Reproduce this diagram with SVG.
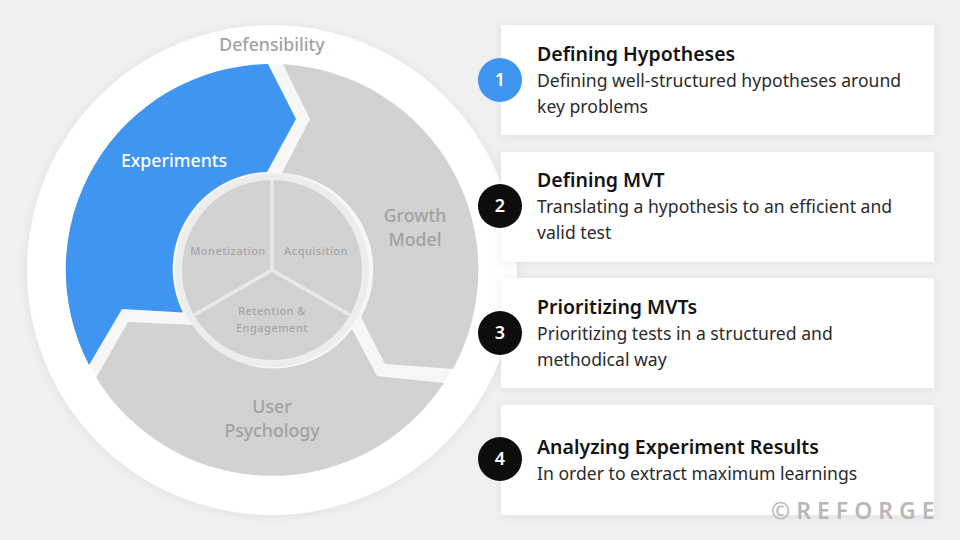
<svg xmlns="http://www.w3.org/2000/svg" width="960" height="540" viewBox="0 0 960 540">
<style>
text{font-family:"Noto Sans","Liberation Sans",sans-serif}
.t{font-size:19.500px;font-weight:600;fill:#141414}
.s{font-size:17.600px;fill:#2b2b2b}
.n{font-size:18px;font-weight:600;fill:#fff;text-anchor:middle}
.g{font-size:17.700px;font-weight:500;fill:#a2a2a2;text-anchor:middle}
.m{font-size:11px;font-weight:500;fill:#a6a6a6;text-anchor:middle;letter-spacing:.5px}
.seg{fill:#d2d2d2}
.card{fill:#fff;filter:url(#sh)}
.div{stroke:#e9e9e9;stroke-width:3.5;fill:none}
</style>
<defs>
<filter id="sh" x="-20%" y="-20%" width="140%" height="140%"><feDropShadow dx="0" dy="1" stdDeviation="5" flood-color="#000" flood-opacity=".07"/></filter>
</defs>
<rect width="960" height="540" fill="#f0f0f0"/>
<g id="wheel">
<circle cx="272" cy="270" r="245" fill="#fff" filter="url(#sh)"/>
<circle cx="272" cy="270" r="205.500" fill="#f7f7f7"/>
<path id="experiments" fill="#3f95ef" d="M268 64A206 206 0 0 0 89 365L122 309L183 312.500A97 97 0 0 1 267 172L296 119Z"/>
<path id="growth" class="seg" d="M283 64.300A206 206 0 0 1 453 369L385 364L361 317A97 97 0 0 0 282 173L310 119Z"/>
<path id="user" class="seg" d="M96.200 377.500A206 206 0 0 0 444 383L377 376L352 329A97 97 0 0 1 193 325L128 322Z"/>
<circle cx="272" cy="270" r="93.500" fill="#d2d2d2" stroke="#ededed" stroke-width="7"/>
<path class="div" d="M272 180V270M272 270L194 315M272 270L350 315"/>
<text x="272" y="51" class="g">Defensibility</text>
<text x="174" y="167" class="g" style="fill:#fff">Experiments</text>
<text x="415" y="222" class="g">Growth</text>
<text x="415" y="246" class="g">Model</text>
<text x="272" y="413" class="g">User</text>
<text x="272" y="437" class="g">Psychology</text>
<text x="228" y="255" class="m">Monetization</text>
<text x="316" y="255" class="m">Acquisition</text>
<text x="272" y="315" class="m">Retention &amp;</text>
<text x="272" y="332" class="m">Engagement</text>
</g>
<g id="step1"><rect class="card" x="501" y="25" width="433" height="110"/><circle cx="500" cy="80" r="22" fill="#3f95ef"/><text x="500" y="86" class="n">1</text>
<text x="537" y="61" class="t">Defining Hypotheses</text><text x="537" y="87" class="s">Defining well-structured hypotheses around</text><text x="537" y="113" class="s">key problems</text></g>
<g id="step2"><rect class="card" x="501" y="152" width="433" height="110"/><circle cx="500" cy="206" r="22" fill="#0d0d0d"/><text x="500" y="212" class="n">2</text>
<text x="537" y="187" class="t">Defining MVT</text><text x="537" y="213" class="s">Translating a hypothesis to an efficient and</text><text x="537" y="239" class="s">valid test</text></g>
<g id="step3"><rect class="card" x="501" y="278" width="433" height="110"/><circle cx="500" cy="333" r="22" fill="#0d0d0d"/><text x="500" y="339" class="n">3</text>
<text x="537" y="314" class="t">Prioritizing MVTs</text><text x="537" y="340" class="s">Prioritizing tests in a structured and</text><text x="537" y="366" class="s">methodical way</text></g>
<g id="step4"><rect class="card" x="501" y="405" width="433" height="110"/><circle cx="500" cy="459" r="22" fill="#0d0d0d"/><text x="500" y="465" class="n">4</text>
<text x="537" y="454" class="t">Analyzing Experiment Results</text><text x="537" y="480" class="s">In order to extract maximum learnings</text></g>
<text x="771" y="519" font-size="23" font-weight="600" fill="#b8b8b8" letter-spacing="6">©REFORGE</text>
</svg>
